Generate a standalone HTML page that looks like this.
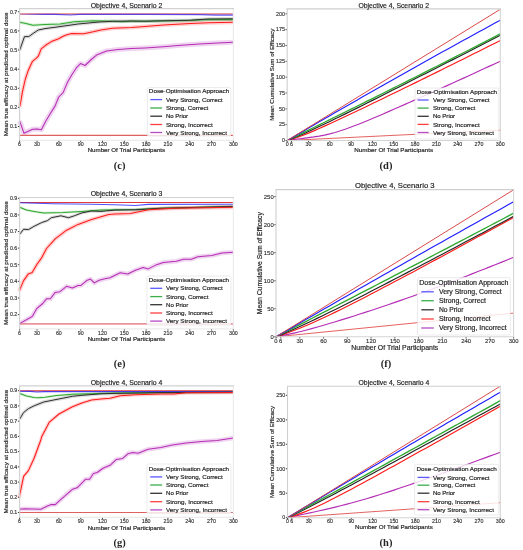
<!DOCTYPE html><html><head><meta charset="utf-8"><style>html,body{margin:0;padding:0;background:#fff;overflow:hidden;}svg{display:block;filter:blur(0.5px);}text{stroke-linejoin:round;}</style></head><body>
<svg width="523" height="550" viewBox="0 0 523 550">
<rect width="523" height="550" fill="#fff"/>
<g>
<polyline points="19.6,22.2 26,23.5 32.9,25.3 45,24.6 60,24 74.1,21.8 93.2,20.7 112.4,21.3 121.9,21.8 131.5,21.3 145,21.3 190.4,20.6 208.6,19.6 233.4,19.6" fill="none" stroke="#2fa82f" stroke-width="3" stroke-opacity="0.2" stroke-linejoin="round" stroke-linecap="butt"/>
<polyline points="19.6,50.4 24.5,36.6 28.8,36.6 33.9,32.9 38.3,30 45,28.6 57,27 78,24 99,22 112.4,21.3 131.5,21 145,21.2 190.4,20.2 208.6,19 233.4,18.8" fill="none" stroke="#222222" stroke-width="3.5" stroke-opacity="0.16" stroke-linejoin="round" stroke-linecap="butt"/>
<polyline points="19.6,106.6 20.1,105.7 22.3,92.6 25.2,79.5 28.1,70.8 32.5,61.3 36.1,58.4 38.3,56.2 41.2,48.9 45.6,45.3 51.4,41.6 58.7,38.7 62.6,36.5 66,35.1 71.8,33.6 83.7,33.7 93.2,31.8 100.9,29.9 112.4,28.3 131.5,27.6 145,26.4 163.2,25 190.4,23.5 208.6,22.8 233.4,22.3" fill="none" stroke="#ff1a1a" stroke-width="4" stroke-opacity="0.2" stroke-linejoin="round" stroke-linecap="butt"/>
<polyline points="19.7,121 24,133.3 28.8,131 32.6,129.3 37.2,128.9 41.4,129.7 45.6,121.4 50.2,113.8 55,106.1 58.7,97 63.1,92.6 67.5,82.2 72.3,74 76.8,67.3 80.5,63.6 85,65.5 91.3,59.5 97.1,54.7 106.6,50.9 118.1,49.4 131.5,48.6 145,48 163.2,46.8 181.3,45.3 199.5,44.1 217.7,43.1 233.4,42.2" fill="none" stroke="#b52db5" stroke-width="5" stroke-opacity="0.2" stroke-linejoin="round" stroke-linecap="butt"/>
<polyline points="19.6,14 233.4,14" fill="none" stroke="#e03a3a" stroke-width="1.1" stroke-linejoin="round" stroke-linecap="butt"/>
<polyline points="19.6,135.3 233.4,135.3" fill="none" stroke="#e06060" stroke-width="1.2" stroke-linejoin="round" stroke-linecap="butt"/>
<defs><linearGradient id="bg" gradientUnits="userSpaceOnUse" x1="19.6" y1="0" x2="45" y2="0"><stop offset="0" stop-color="#1f1fff" stop-opacity="0.15"/><stop offset="1" stop-color="#1f1fff" stop-opacity="0.7"/></linearGradient></defs>
<polyline points="19.6,14.3 40,14.3 55,14.3 70.3,15 79.9,14.3 145,14.3 200,14.6 215,15.2 233.4,15.2" fill="none" stroke="url(#bg)" stroke-width="1.2" stroke-linejoin="round" stroke-linecap="butt"/>
<polyline points="19.6,22.2 26,23.5 32.9,25.3 45,24.6 60,24 74.1,21.8 93.2,20.7 112.4,21.3 121.9,21.8 131.5,21.3 145,21.3 190.4,20.6 208.6,19.6 233.4,19.6" fill="none" stroke="#2fa82f" stroke-width="1.05" stroke-linejoin="round" stroke-linecap="butt"/>
<polyline points="19.6,50.4 24.5,36.6 28.8,36.6 33.9,32.9 38.3,30 45,28.6 57,27 78,24 99,22 112.4,21.3 131.5,21 145,21.2 190.4,20.2 208.6,19 233.4,18.8" fill="none" stroke="#2e2e2e" stroke-width="1" stroke-linejoin="round" stroke-linecap="butt"/>
<polyline points="19.6,106.6 20.1,105.7 22.3,92.6 25.2,79.5 28.1,70.8 32.5,61.3 36.1,58.4 38.3,56.2 41.2,48.9 45.6,45.3 51.4,41.6 58.7,38.7 62.6,36.5 66,35.1 71.8,33.6 83.7,33.7 93.2,31.8 100.9,29.9 112.4,28.3 131.5,27.6 145,26.4 163.2,25 190.4,23.5 208.6,22.8 233.4,22.3" fill="none" stroke="#ff1a1a" stroke-width="1.05" stroke-linejoin="round" stroke-linecap="butt"/>
<polyline points="19.7,121 24,133.3 28.8,131 32.6,129.3 37.2,128.9 41.4,129.7 45.6,121.4 50.2,113.8 55,106.1 58.7,97 63.1,92.6 67.5,82.2 72.3,74 76.8,67.3 80.5,63.6 85,65.5 91.3,59.5 97.1,54.7 106.6,50.9 118.1,49.4 131.5,48.6 145,48 163.2,46.8 181.3,45.3 199.5,44.1 217.7,43.1 233.4,42.2" fill="none" stroke="#b52db5" stroke-width="1.05" stroke-linejoin="round" stroke-linecap="butt"/>
</g>
<line x1="19.6" y1="140.3" x2="233.4" y2="140.3" stroke="#ececec" stroke-width="1.2"/><line x1="233.4" y1="8.6" x2="233.4" y2="140.3" stroke="#ececec" stroke-width="1.2"/><line x1="19" y1="8.6" x2="234" y2="8.6" stroke="#d2d2d2" stroke-width="1.2"/><line x1="19.6" y1="8.6" x2="19.6" y2="140.9" stroke="#d2d2d2" stroke-width="1.2"/>
<line x1="19.6" y1="140.8" x2="19.6" y2="142" stroke="#111" stroke-width="0.8"/>
<text x="19.6" y="146.1" font-size="5.3" text-anchor="middle" fill="#303030" font-family='"Liberation Sans", sans-serif' textLength="2.96" lengthAdjust="spacingAndGlyphs" stroke="#303030" stroke-width="0.14">6</text>
<line x1="37.05" y1="140.8" x2="37.05" y2="142" stroke="#111" stroke-width="0.8"/>
<text x="37.05" y="146.1" font-size="5.3" text-anchor="middle" fill="#303030" font-family='"Liberation Sans", sans-serif' textLength="5.92" lengthAdjust="spacingAndGlyphs" stroke="#303030" stroke-width="0.14">30</text>
<line x1="58.87" y1="140.8" x2="58.87" y2="142" stroke="#111" stroke-width="0.8"/>
<text x="58.87" y="146.1" font-size="5.3" text-anchor="middle" fill="#303030" font-family='"Liberation Sans", sans-serif' textLength="5.92" lengthAdjust="spacingAndGlyphs" stroke="#303030" stroke-width="0.14">60</text>
<line x1="80.69" y1="140.8" x2="80.69" y2="142" stroke="#111" stroke-width="0.8"/>
<text x="80.69" y="146.1" font-size="5.3" text-anchor="middle" fill="#303030" font-family='"Liberation Sans", sans-serif' textLength="5.92" lengthAdjust="spacingAndGlyphs" stroke="#303030" stroke-width="0.14">90</text>
<line x1="102.5" y1="140.8" x2="102.5" y2="142" stroke="#111" stroke-width="0.8"/>
<text x="102.5" y="146.1" font-size="5.3" text-anchor="middle" fill="#303030" font-family='"Liberation Sans", sans-serif' textLength="8.88" lengthAdjust="spacingAndGlyphs" stroke="#303030" stroke-width="0.14">120</text>
<line x1="124.32" y1="140.8" x2="124.32" y2="142" stroke="#111" stroke-width="0.8"/>
<text x="124.32" y="146.1" font-size="5.3" text-anchor="middle" fill="#303030" font-family='"Liberation Sans", sans-serif' textLength="8.88" lengthAdjust="spacingAndGlyphs" stroke="#303030" stroke-width="0.14">150</text>
<line x1="146.13" y1="140.8" x2="146.13" y2="142" stroke="#111" stroke-width="0.8"/>
<text x="146.13" y="146.1" font-size="5.3" text-anchor="middle" fill="#303030" font-family='"Liberation Sans", sans-serif' textLength="8.88" lengthAdjust="spacingAndGlyphs" stroke="#303030" stroke-width="0.14">180</text>
<line x1="167.95" y1="140.8" x2="167.95" y2="142" stroke="#111" stroke-width="0.8"/>
<text x="167.95" y="146.1" font-size="5.3" text-anchor="middle" fill="#303030" font-family='"Liberation Sans", sans-serif' textLength="8.88" lengthAdjust="spacingAndGlyphs" stroke="#303030" stroke-width="0.14">210</text>
<line x1="189.77" y1="140.8" x2="189.77" y2="142" stroke="#111" stroke-width="0.8"/>
<text x="189.77" y="146.1" font-size="5.3" text-anchor="middle" fill="#303030" font-family='"Liberation Sans", sans-serif' textLength="8.88" lengthAdjust="spacingAndGlyphs" stroke="#303030" stroke-width="0.14">240</text>
<line x1="211.58" y1="140.8" x2="211.58" y2="142" stroke="#111" stroke-width="0.8"/>
<text x="211.58" y="146.1" font-size="5.3" text-anchor="middle" fill="#303030" font-family='"Liberation Sans", sans-serif' textLength="8.88" lengthAdjust="spacingAndGlyphs" stroke="#303030" stroke-width="0.14">270</text>
<line x1="233.4" y1="140.8" x2="233.4" y2="142" stroke="#111" stroke-width="0.8"/>
<text x="233.4" y="146.1" font-size="5.3" text-anchor="middle" fill="#303030" font-family='"Liberation Sans", sans-serif' textLength="8.88" lengthAdjust="spacingAndGlyphs" stroke="#303030" stroke-width="0.14">300</text>
<line x1="17.9" y1="126.52" x2="19.1" y2="126.52" stroke="#111" stroke-width="0.8"/>
<text x="17.3" y="128.29" font-size="5.3" text-anchor="end" fill="#303030" font-family='"Liberation Sans", sans-serif' textLength="7.4" lengthAdjust="spacingAndGlyphs" stroke="#303030" stroke-width="0.14">0.1</text>
<line x1="17.9" y1="107.4" x2="19.1" y2="107.4" stroke="#111" stroke-width="0.8"/>
<text x="17.3" y="109.17" font-size="5.3" text-anchor="end" fill="#303030" font-family='"Liberation Sans", sans-serif' textLength="7.4" lengthAdjust="spacingAndGlyphs" stroke="#303030" stroke-width="0.14">0.2</text>
<line x1="17.9" y1="88.28" x2="19.1" y2="88.28" stroke="#111" stroke-width="0.8"/>
<text x="17.3" y="90.05" font-size="5.3" text-anchor="end" fill="#303030" font-family='"Liberation Sans", sans-serif' textLength="7.4" lengthAdjust="spacingAndGlyphs" stroke="#303030" stroke-width="0.14">0.3</text>
<line x1="17.9" y1="69.16" x2="19.1" y2="69.16" stroke="#111" stroke-width="0.8"/>
<text x="17.3" y="70.93" font-size="5.3" text-anchor="end" fill="#303030" font-family='"Liberation Sans", sans-serif' textLength="7.4" lengthAdjust="spacingAndGlyphs" stroke="#303030" stroke-width="0.14">0.4</text>
<line x1="17.9" y1="50.04" x2="19.1" y2="50.04" stroke="#111" stroke-width="0.8"/>
<text x="17.3" y="51.81" font-size="5.3" text-anchor="end" fill="#303030" font-family='"Liberation Sans", sans-serif' textLength="7.4" lengthAdjust="spacingAndGlyphs" stroke="#303030" stroke-width="0.14">0.5</text>
<line x1="17.9" y1="30.92" x2="19.1" y2="30.92" stroke="#111" stroke-width="0.8"/>
<text x="17.3" y="32.69" font-size="5.3" text-anchor="end" fill="#303030" font-family='"Liberation Sans", sans-serif' textLength="7.4" lengthAdjust="spacingAndGlyphs" stroke="#303030" stroke-width="0.14">0.6</text>
<line x1="17.9" y1="11.8" x2="19.1" y2="11.8" stroke="#111" stroke-width="0.8"/>
<text x="17.3" y="13.57" font-size="5.3" text-anchor="end" fill="#303030" font-family='"Liberation Sans", sans-serif' textLength="7.4" lengthAdjust="spacingAndGlyphs" stroke="#303030" stroke-width="0.14">0.7</text>
<text x="126.5" y="7.7" font-size="6.53" text-anchor="middle" fill="#262626" font-family='"Liberation Sans", sans-serif' textLength="71.7" lengthAdjust="spacingAndGlyphs" stroke="#262626" stroke-width="0.18">Objective 4, Scenario 2</text>
<text x="8.1" y="74.45" font-size="5.84" text-anchor="middle" fill="#262626" font-family='"Liberation Sans", sans-serif' textLength="123.8" lengthAdjust="spacingAndGlyphs" transform="rotate(-90 8.1 74.45)" stroke="#262626" stroke-width="0.18">Mean true efficacy at predicted optimal dose</text>
<text x="126.4" y="152.1" font-size="5.84" text-anchor="middle" fill="#262626" font-family='"Liberation Sans", sans-serif' textLength="77.5" lengthAdjust="spacingAndGlyphs" stroke="#262626" stroke-width="0.18">Number Of Trial Participants</text>
<text x="119.6" y="169.3" font-size="10.5" text-anchor="middle" fill="#262626" font-family='"Liberation Serif", serif' font-weight="bold">(c)</text>
<rect x="147.3" y="87.6" width="83.5" height="48.4" rx="1.5" fill="#ffffff" fill-opacity="0.82" stroke="#e2e2e2" stroke-width="0.7"/>
<text x="189.05" y="93.43" font-size="5.93" text-anchor="middle" fill="#262626" font-family='"Liberation Sans", sans-serif' textLength="80.38" lengthAdjust="spacingAndGlyphs" stroke="#262626" stroke-width="0.18">Dose-Optimisation Approach</text>
<line x1="150.3" y1="99.6" x2="162.1" y2="99.6" stroke="#5a5aff" stroke-width="1.3"/>
<text x="165.9" y="101.73" font-size="5.93" text-anchor="start" fill="#262626" font-family='"Liberation Sans", sans-serif' textLength="56.64" lengthAdjust="spacingAndGlyphs" stroke="#262626" stroke-width="0.18">Very Strong, Correct</text>
<line x1="150.3" y1="108" x2="162.1" y2="108" stroke="#3cae4c" stroke-width="1.3"/>
<text x="165.9" y="110.13" font-size="5.93" text-anchor="start" fill="#262626" font-family='"Liberation Sans", sans-serif' textLength="42.41" lengthAdjust="spacingAndGlyphs" stroke="#262626" stroke-width="0.18">Strong, Correct</text>
<line x1="150.3" y1="116.2" x2="162.1" y2="116.2" stroke="#333333" stroke-width="1.3"/>
<text x="165.9" y="118.33" font-size="5.93" text-anchor="start" fill="#262626" font-family='"Liberation Sans", sans-serif' textLength="22.24" lengthAdjust="spacingAndGlyphs" stroke="#262626" stroke-width="0.18">No Prior</text>
<line x1="150.3" y1="124.5" x2="162.1" y2="124.5" stroke="#ff4040" stroke-width="1.3"/>
<text x="165.9" y="126.63" font-size="5.93" text-anchor="start" fill="#262626" font-family='"Liberation Sans", sans-serif' textLength="46.78" lengthAdjust="spacingAndGlyphs" stroke="#262626" stroke-width="0.18">Strong, Incorrect</text>
<line x1="150.3" y1="132.5" x2="162.1" y2="132.5" stroke="#b44cc4" stroke-width="1.3"/>
<text x="165.9" y="134.63" font-size="5.93" text-anchor="start" fill="#262626" font-family='"Liberation Sans", sans-serif' textLength="61" lengthAdjust="spacingAndGlyphs" stroke="#262626" stroke-width="0.18">Very Strong, Incorrect</text>
<g>
<polyline points="19.6,207.2 26.5,210.1 34.1,211.4 43.7,212.9 62.8,212.6 81.9,211.4 101,210.1 115,209.8 135.4,209.6 160.9,208.3 233.4,206.6" fill="none" stroke="#2fa82f" stroke-width="2.5" stroke-opacity="0.2" stroke-linejoin="round" stroke-linecap="butt"/>
<polyline points="19.6,234.4 23.6,229.2 28.4,229.6 34.1,226.3 41.8,222.5 47.5,220.6 51.3,217.7 60.9,215.8 68.5,217.7 74.3,215.8 81.9,212.9 91.5,211 101,211.4 115,210.1 135.4,209.8 160.9,208.3 233.4,206.4" fill="none" stroke="#222222" stroke-width="3" stroke-opacity="0.16" stroke-linejoin="round" stroke-linecap="butt"/>
<polyline points="19.2,291.1 23.6,280.6 28.4,273.9 32.2,272.6 37,264.3 41.8,257.6 46.5,248.5 55.2,238.8 66.6,230.2 78.1,224.4 91.5,219.6 101,216.8 108.7,214.5 115,213.9 130.4,213.4 148.2,209.8 173.6,208.3 233.4,207.3" fill="none" stroke="#ff1a1a" stroke-width="4" stroke-opacity="0.2" stroke-linejoin="round" stroke-linecap="butt"/>
<polyline points="19.6,323.6 32.2,316.5 37,308.3 42.7,303.5 46.5,298.8 50.4,298.8 55.2,292.4 59.9,291.7 66.6,286.3 72.4,287.9 78.1,285.4 81,285.4 86.7,280.6 90.5,279.1 94.3,282.9 99.1,280.2 104.9,278.7 110,277.8 120.2,272.7 127.8,274 135.4,270.2 143.1,267.6 148.2,268.9 155.8,265.1 163.4,262.5 176.2,261.2 183.8,259.2 191.4,259.2 197.8,256.7 211.8,255.6 222,253.1 233.4,252.3" fill="none" stroke="#b52db5" stroke-width="4.5" stroke-opacity="0.2" stroke-linejoin="round" stroke-linecap="butt"/>
<polyline points="19.6,202.5 233.4,202.5" fill="none" stroke="#e03a3a" stroke-width="1.1" stroke-linejoin="round" stroke-linecap="butt"/>
<polyline points="19.6,323.9 233.4,323.9" fill="none" stroke="#e8939b" stroke-width="1.9" stroke-linejoin="round" stroke-linecap="butt"/>
<polyline points="19.6,202.8 53.2,203.8 91.5,204.3 115,204.7 135.4,205.5 148.2,204.4 233.4,204.2" fill="none" stroke="#1f1fff" stroke-width="1.15" stroke-opacity="0.78" stroke-linejoin="round" stroke-linecap="butt"/>
<polyline points="19.6,207.2 26.5,210.1 34.1,211.4 43.7,212.9 62.8,212.6 81.9,211.4 101,210.1 115,209.8 135.4,209.6 160.9,208.3 233.4,206.6" fill="none" stroke="#2fa82f" stroke-width="1.05" stroke-linejoin="round" stroke-linecap="butt"/>
<polyline points="19.6,234.4 23.6,229.2 28.4,229.6 34.1,226.3 41.8,222.5 47.5,220.6 51.3,217.7 60.9,215.8 68.5,217.7 74.3,215.8 81.9,212.9 91.5,211 101,211.4 115,210.1 135.4,209.8 160.9,208.3 233.4,206.4" fill="none" stroke="#2e2e2e" stroke-width="1" stroke-linejoin="round" stroke-linecap="butt"/>
<polyline points="19.2,291.1 23.6,280.6 28.4,273.9 32.2,272.6 37,264.3 41.8,257.6 46.5,248.5 55.2,238.8 66.6,230.2 78.1,224.4 91.5,219.6 101,216.8 108.7,214.5 115,213.9 130.4,213.4 148.2,209.8 173.6,208.3 233.4,207.3" fill="none" stroke="#ff1a1a" stroke-width="1.05" stroke-linejoin="round" stroke-linecap="butt"/>
<polyline points="19.6,323.6 32.2,316.5 37,308.3 42.7,303.5 46.5,298.8 50.4,298.8 55.2,292.4 59.9,291.7 66.6,286.3 72.4,287.9 78.1,285.4 81,285.4 86.7,280.6 90.5,279.1 94.3,282.9 99.1,280.2 104.9,278.7 110,277.8 120.2,272.7 127.8,274 135.4,270.2 143.1,267.6 148.2,268.9 155.8,265.1 163.4,262.5 176.2,261.2 183.8,259.2 191.4,259.2 197.8,256.7 211.8,255.6 222,253.1 233.4,252.3" fill="none" stroke="#b52db5" stroke-width="1.05" stroke-linejoin="round" stroke-linecap="butt"/>
</g>
<line x1="19.6" y1="328.9" x2="233.4" y2="328.9" stroke="#ececec" stroke-width="1.2"/><line x1="233.4" y1="197.5" x2="233.4" y2="328.9" stroke="#ececec" stroke-width="1.2"/><line x1="19" y1="197.5" x2="234" y2="197.5" stroke="#d2d2d2" stroke-width="1.2"/><line x1="19.6" y1="197.5" x2="19.6" y2="329.5" stroke="#d2d2d2" stroke-width="1.2"/>
<line x1="19.6" y1="329.4" x2="19.6" y2="330.6" stroke="#111" stroke-width="0.8"/>
<text x="19.6" y="334.7" font-size="5.3" text-anchor="middle" fill="#303030" font-family='"Liberation Sans", sans-serif' textLength="2.96" lengthAdjust="spacingAndGlyphs" stroke="#303030" stroke-width="0.14">6</text>
<line x1="37.05" y1="329.4" x2="37.05" y2="330.6" stroke="#111" stroke-width="0.8"/>
<text x="37.05" y="334.7" font-size="5.3" text-anchor="middle" fill="#303030" font-family='"Liberation Sans", sans-serif' textLength="5.92" lengthAdjust="spacingAndGlyphs" stroke="#303030" stroke-width="0.14">30</text>
<line x1="58.87" y1="329.4" x2="58.87" y2="330.6" stroke="#111" stroke-width="0.8"/>
<text x="58.87" y="334.7" font-size="5.3" text-anchor="middle" fill="#303030" font-family='"Liberation Sans", sans-serif' textLength="5.92" lengthAdjust="spacingAndGlyphs" stroke="#303030" stroke-width="0.14">60</text>
<line x1="80.69" y1="329.4" x2="80.69" y2="330.6" stroke="#111" stroke-width="0.8"/>
<text x="80.69" y="334.7" font-size="5.3" text-anchor="middle" fill="#303030" font-family='"Liberation Sans", sans-serif' textLength="5.92" lengthAdjust="spacingAndGlyphs" stroke="#303030" stroke-width="0.14">90</text>
<line x1="102.5" y1="329.4" x2="102.5" y2="330.6" stroke="#111" stroke-width="0.8"/>
<text x="102.5" y="334.7" font-size="5.3" text-anchor="middle" fill="#303030" font-family='"Liberation Sans", sans-serif' textLength="8.88" lengthAdjust="spacingAndGlyphs" stroke="#303030" stroke-width="0.14">120</text>
<line x1="124.32" y1="329.4" x2="124.32" y2="330.6" stroke="#111" stroke-width="0.8"/>
<text x="124.32" y="334.7" font-size="5.3" text-anchor="middle" fill="#303030" font-family='"Liberation Sans", sans-serif' textLength="8.88" lengthAdjust="spacingAndGlyphs" stroke="#303030" stroke-width="0.14">150</text>
<line x1="146.13" y1="329.4" x2="146.13" y2="330.6" stroke="#111" stroke-width="0.8"/>
<text x="146.13" y="334.7" font-size="5.3" text-anchor="middle" fill="#303030" font-family='"Liberation Sans", sans-serif' textLength="8.88" lengthAdjust="spacingAndGlyphs" stroke="#303030" stroke-width="0.14">180</text>
<line x1="167.95" y1="329.4" x2="167.95" y2="330.6" stroke="#111" stroke-width="0.8"/>
<text x="167.95" y="334.7" font-size="5.3" text-anchor="middle" fill="#303030" font-family='"Liberation Sans", sans-serif' textLength="8.88" lengthAdjust="spacingAndGlyphs" stroke="#303030" stroke-width="0.14">210</text>
<line x1="189.77" y1="329.4" x2="189.77" y2="330.6" stroke="#111" stroke-width="0.8"/>
<text x="189.77" y="334.7" font-size="5.3" text-anchor="middle" fill="#303030" font-family='"Liberation Sans", sans-serif' textLength="8.88" lengthAdjust="spacingAndGlyphs" stroke="#303030" stroke-width="0.14">240</text>
<line x1="211.58" y1="329.4" x2="211.58" y2="330.6" stroke="#111" stroke-width="0.8"/>
<text x="211.58" y="334.7" font-size="5.3" text-anchor="middle" fill="#303030" font-family='"Liberation Sans", sans-serif' textLength="8.88" lengthAdjust="spacingAndGlyphs" stroke="#303030" stroke-width="0.14">270</text>
<line x1="233.4" y1="329.4" x2="233.4" y2="330.6" stroke="#111" stroke-width="0.8"/>
<text x="233.4" y="334.7" font-size="5.3" text-anchor="middle" fill="#303030" font-family='"Liberation Sans", sans-serif' textLength="8.88" lengthAdjust="spacingAndGlyphs" stroke="#303030" stroke-width="0.14">300</text>
<line x1="17.9" y1="314.57" x2="19.1" y2="314.57" stroke="#111" stroke-width="0.8"/>
<text x="17.3" y="316.34" font-size="5.3" text-anchor="end" fill="#303030" font-family='"Liberation Sans", sans-serif' textLength="7.4" lengthAdjust="spacingAndGlyphs" stroke="#303030" stroke-width="0.14">0.2</text>
<line x1="17.9" y1="297.96" x2="19.1" y2="297.96" stroke="#111" stroke-width="0.8"/>
<text x="17.3" y="299.73" font-size="5.3" text-anchor="end" fill="#303030" font-family='"Liberation Sans", sans-serif' textLength="7.4" lengthAdjust="spacingAndGlyphs" stroke="#303030" stroke-width="0.14">0.3</text>
<line x1="17.9" y1="281.35" x2="19.1" y2="281.35" stroke="#111" stroke-width="0.8"/>
<text x="17.3" y="283.12" font-size="5.3" text-anchor="end" fill="#303030" font-family='"Liberation Sans", sans-serif' textLength="7.4" lengthAdjust="spacingAndGlyphs" stroke="#303030" stroke-width="0.14">0.4</text>
<line x1="17.9" y1="264.74" x2="19.1" y2="264.74" stroke="#111" stroke-width="0.8"/>
<text x="17.3" y="266.51" font-size="5.3" text-anchor="end" fill="#303030" font-family='"Liberation Sans", sans-serif' textLength="7.4" lengthAdjust="spacingAndGlyphs" stroke="#303030" stroke-width="0.14">0.5</text>
<line x1="17.9" y1="248.13" x2="19.1" y2="248.13" stroke="#111" stroke-width="0.8"/>
<text x="17.3" y="249.9" font-size="5.3" text-anchor="end" fill="#303030" font-family='"Liberation Sans", sans-serif' textLength="7.4" lengthAdjust="spacingAndGlyphs" stroke="#303030" stroke-width="0.14">0.6</text>
<line x1="17.9" y1="231.52" x2="19.1" y2="231.52" stroke="#111" stroke-width="0.8"/>
<text x="17.3" y="233.29" font-size="5.3" text-anchor="end" fill="#303030" font-family='"Liberation Sans", sans-serif' textLength="7.4" lengthAdjust="spacingAndGlyphs" stroke="#303030" stroke-width="0.14">0.7</text>
<line x1="17.9" y1="214.91" x2="19.1" y2="214.91" stroke="#111" stroke-width="0.8"/>
<text x="17.3" y="216.68" font-size="5.3" text-anchor="end" fill="#303030" font-family='"Liberation Sans", sans-serif' textLength="7.4" lengthAdjust="spacingAndGlyphs" stroke="#303030" stroke-width="0.14">0.8</text>
<line x1="17.9" y1="198.3" x2="19.1" y2="198.3" stroke="#111" stroke-width="0.8"/>
<text x="17.3" y="200.07" font-size="5.3" text-anchor="end" fill="#303030" font-family='"Liberation Sans", sans-serif' textLength="7.4" lengthAdjust="spacingAndGlyphs" stroke="#303030" stroke-width="0.14">0.9</text>
<text x="126.5" y="196.3" font-size="6.53" text-anchor="middle" fill="#262626" font-family='"Liberation Sans", sans-serif' textLength="71.7" lengthAdjust="spacingAndGlyphs" stroke="#262626" stroke-width="0.18">Objective 4, Scenario 3</text>
<text x="8.1" y="263.2" font-size="5.84" text-anchor="middle" fill="#262626" font-family='"Liberation Sans", sans-serif' textLength="123.8" lengthAdjust="spacingAndGlyphs" transform="rotate(-90 8.1 263.2)" stroke="#262626" stroke-width="0.18">Mean true efficacy at predicted optimal dose</text>
<text x="126.4" y="341" font-size="5.84" text-anchor="middle" fill="#262626" font-family='"Liberation Sans", sans-serif' textLength="77.5" lengthAdjust="spacingAndGlyphs" stroke="#262626" stroke-width="0.18">Number Of Trial Participants</text>
<text x="119.6" y="367.3" font-size="10.5" text-anchor="middle" fill="#262626" font-family='"Liberation Serif", serif' font-weight="bold">(e)</text>
<rect x="146.9" y="276" width="84" height="49" rx="1.5" fill="#ffffff" fill-opacity="0.82" stroke="#e2e2e2" stroke-width="0.7"/>
<text x="188.9" y="281.93" font-size="5.93" text-anchor="middle" fill="#262626" font-family='"Liberation Sans", sans-serif' textLength="80.38" lengthAdjust="spacingAndGlyphs" stroke="#262626" stroke-width="0.18">Dose-Optimisation Approach</text>
<line x1="150.2" y1="288.3" x2="162.2" y2="288.3" stroke="#5a5aff" stroke-width="1.3"/>
<text x="166" y="290.43" font-size="5.93" text-anchor="start" fill="#262626" font-family='"Liberation Sans", sans-serif' textLength="56.64" lengthAdjust="spacingAndGlyphs" stroke="#262626" stroke-width="0.18">Very Strong, Correct</text>
<line x1="150.2" y1="296.6" x2="162.2" y2="296.6" stroke="#3cae4c" stroke-width="1.3"/>
<text x="166" y="298.73" font-size="5.93" text-anchor="start" fill="#262626" font-family='"Liberation Sans", sans-serif' textLength="42.41" lengthAdjust="spacingAndGlyphs" stroke="#262626" stroke-width="0.18">Strong, Correct</text>
<line x1="150.2" y1="304.7" x2="162.2" y2="304.7" stroke="#333333" stroke-width="1.3"/>
<text x="166" y="306.83" font-size="5.93" text-anchor="start" fill="#262626" font-family='"Liberation Sans", sans-serif' textLength="22.24" lengthAdjust="spacingAndGlyphs" stroke="#262626" stroke-width="0.18">No Prior</text>
<line x1="150.2" y1="313" x2="162.2" y2="313" stroke="#ff4040" stroke-width="1.3"/>
<text x="166" y="315.13" font-size="5.93" text-anchor="start" fill="#262626" font-family='"Liberation Sans", sans-serif' textLength="46.78" lengthAdjust="spacingAndGlyphs" stroke="#262626" stroke-width="0.18">Strong, Incorrect</text>
<line x1="150.2" y1="321.1" x2="162.2" y2="321.1" stroke="#b44cc4" stroke-width="1.3"/>
<text x="166" y="323.23" font-size="5.93" text-anchor="start" fill="#262626" font-family='"Liberation Sans", sans-serif' textLength="61" lengthAdjust="spacingAndGlyphs" stroke="#262626" stroke-width="0.18">Very Strong, Incorrect</text>
<g>
<polyline points="19.8,393.6 26.5,396 34,397.4 38.4,397.8 45,397.2 57,395.5 72.4,394.3 91.5,393.8 115,393 160,392.6 233.4,392.3" fill="none" stroke="#2fa82f" stroke-width="2.5" stroke-opacity="0.2" stroke-linejoin="round" stroke-linecap="butt"/>
<polyline points="19.6,419.2 23.6,412.5 28.4,408.7 34.1,405.8 43.7,402 53.2,400.1 62.8,398.2 72.4,396.3 81.9,395.3 101,393.8 115,393.4 160,392.6 233.4,392.2" fill="none" stroke="#222222" stroke-width="3.5" stroke-opacity="0.16" stroke-linejoin="round" stroke-linecap="butt"/>
<polyline points="19.2,497.4 23.6,476.3 28.4,470.6 34.1,458.2 40.8,440 41.8,436.4 49.4,422.1 59,414 72.4,406.8 81.9,402.9 91.5,400.1 101,399.1 110,398.3 120.2,395.8 135.4,394.8 160.9,394 173.6,394 186.3,392.7 233.4,392.4" fill="none" stroke="#ff1a1a" stroke-width="3.5" stroke-opacity="0.2" stroke-linejoin="round" stroke-linecap="butt"/>
<polyline points="19.2,509.2 24.6,508.8 40.8,509.2 47.5,506 51.3,504.6 55.2,504.6 60.9,499.3 72.4,489.3 77.1,487.8 85.7,479.2 89.6,479.2 93.4,473.5 97.2,472.5 103,468.3 110.6,464.9 116.4,459.4 122.7,458.4 127.8,453.8 132.9,452.5 138,453.3 148.2,449.2 160.9,447.4 172.3,444.9 186.3,443.1 201.6,441.6 216.9,440.6 233.4,438" fill="none" stroke="#b52db5" stroke-width="4.5" stroke-opacity="0.2" stroke-linejoin="round" stroke-linecap="butt"/>
<polyline points="19.6,390.9 233.4,390.9" fill="none" stroke="#e03a3a" stroke-width="1.1" stroke-linejoin="round" stroke-linecap="butt"/>
<polyline points="19.6,512.5 233.4,512.5" fill="none" stroke="#e06060" stroke-width="1.2" stroke-linejoin="round" stroke-linecap="butt"/>
<polyline points="19.6,391.2 30,391.4 37,392 45,391.6 233.4,391.5" fill="none" stroke="#1f1fff" stroke-width="1.15" stroke-opacity="0.78" stroke-linejoin="round" stroke-linecap="butt"/>
<polyline points="19.8,393.6 26.5,396 34,397.4 38.4,397.8 45,397.2 57,395.5 72.4,394.3 91.5,393.8 115,393 160,392.6 233.4,392.3" fill="none" stroke="#2fa82f" stroke-width="1.05" stroke-linejoin="round" stroke-linecap="butt"/>
<polyline points="19.6,419.2 23.6,412.5 28.4,408.7 34.1,405.8 43.7,402 53.2,400.1 62.8,398.2 72.4,396.3 81.9,395.3 101,393.8 115,393.4 160,392.6 233.4,392.2" fill="none" stroke="#2e2e2e" stroke-width="1" stroke-linejoin="round" stroke-linecap="butt"/>
<polyline points="19.2,497.4 23.6,476.3 28.4,470.6 34.1,458.2 40.8,440 41.8,436.4 49.4,422.1 59,414 72.4,406.8 81.9,402.9 91.5,400.1 101,399.1 110,398.3 120.2,395.8 135.4,394.8 160.9,394 173.6,394 186.3,392.7 233.4,392.4" fill="none" stroke="#ff1a1a" stroke-width="1.05" stroke-linejoin="round" stroke-linecap="butt"/>
<polyline points="19.2,509.2 24.6,508.8 40.8,509.2 47.5,506 51.3,504.6 55.2,504.6 60.9,499.3 72.4,489.3 77.1,487.8 85.7,479.2 89.6,479.2 93.4,473.5 97.2,472.5 103,468.3 110.6,464.9 116.4,459.4 122.7,458.4 127.8,453.8 132.9,452.5 138,453.3 148.2,449.2 160.9,447.4 172.3,444.9 186.3,443.1 201.6,441.6 216.9,440.6 233.4,438" fill="none" stroke="#b52db5" stroke-width="1.05" stroke-linejoin="round" stroke-linecap="butt"/>
</g>
<line x1="19.6" y1="517.4" x2="233.4" y2="517.4" stroke="#ececec" stroke-width="1.2"/><line x1="233.4" y1="385.9" x2="233.4" y2="517.4" stroke="#ececec" stroke-width="1.2"/><line x1="19" y1="385.9" x2="234" y2="385.9" stroke="#d2d2d2" stroke-width="1.2"/><line x1="19.6" y1="385.9" x2="19.6" y2="518" stroke="#d2d2d2" stroke-width="1.2"/>
<line x1="19.6" y1="517.9" x2="19.6" y2="519.1" stroke="#111" stroke-width="0.8"/>
<text x="19.6" y="523.2" font-size="5.3" text-anchor="middle" fill="#303030" font-family='"Liberation Sans", sans-serif' textLength="2.96" lengthAdjust="spacingAndGlyphs" stroke="#303030" stroke-width="0.14">6</text>
<line x1="37.05" y1="517.9" x2="37.05" y2="519.1" stroke="#111" stroke-width="0.8"/>
<text x="37.05" y="523.2" font-size="5.3" text-anchor="middle" fill="#303030" font-family='"Liberation Sans", sans-serif' textLength="5.92" lengthAdjust="spacingAndGlyphs" stroke="#303030" stroke-width="0.14">30</text>
<line x1="58.87" y1="517.9" x2="58.87" y2="519.1" stroke="#111" stroke-width="0.8"/>
<text x="58.87" y="523.2" font-size="5.3" text-anchor="middle" fill="#303030" font-family='"Liberation Sans", sans-serif' textLength="5.92" lengthAdjust="spacingAndGlyphs" stroke="#303030" stroke-width="0.14">60</text>
<line x1="80.69" y1="517.9" x2="80.69" y2="519.1" stroke="#111" stroke-width="0.8"/>
<text x="80.69" y="523.2" font-size="5.3" text-anchor="middle" fill="#303030" font-family='"Liberation Sans", sans-serif' textLength="5.92" lengthAdjust="spacingAndGlyphs" stroke="#303030" stroke-width="0.14">90</text>
<line x1="102.5" y1="517.9" x2="102.5" y2="519.1" stroke="#111" stroke-width="0.8"/>
<text x="102.5" y="523.2" font-size="5.3" text-anchor="middle" fill="#303030" font-family='"Liberation Sans", sans-serif' textLength="8.88" lengthAdjust="spacingAndGlyphs" stroke="#303030" stroke-width="0.14">120</text>
<line x1="124.32" y1="517.9" x2="124.32" y2="519.1" stroke="#111" stroke-width="0.8"/>
<text x="124.32" y="523.2" font-size="5.3" text-anchor="middle" fill="#303030" font-family='"Liberation Sans", sans-serif' textLength="8.88" lengthAdjust="spacingAndGlyphs" stroke="#303030" stroke-width="0.14">150</text>
<line x1="146.13" y1="517.9" x2="146.13" y2="519.1" stroke="#111" stroke-width="0.8"/>
<text x="146.13" y="523.2" font-size="5.3" text-anchor="middle" fill="#303030" font-family='"Liberation Sans", sans-serif' textLength="8.88" lengthAdjust="spacingAndGlyphs" stroke="#303030" stroke-width="0.14">180</text>
<line x1="167.95" y1="517.9" x2="167.95" y2="519.1" stroke="#111" stroke-width="0.8"/>
<text x="167.95" y="523.2" font-size="5.3" text-anchor="middle" fill="#303030" font-family='"Liberation Sans", sans-serif' textLength="8.88" lengthAdjust="spacingAndGlyphs" stroke="#303030" stroke-width="0.14">210</text>
<line x1="189.77" y1="517.9" x2="189.77" y2="519.1" stroke="#111" stroke-width="0.8"/>
<text x="189.77" y="523.2" font-size="5.3" text-anchor="middle" fill="#303030" font-family='"Liberation Sans", sans-serif' textLength="8.88" lengthAdjust="spacingAndGlyphs" stroke="#303030" stroke-width="0.14">240</text>
<line x1="211.58" y1="517.9" x2="211.58" y2="519.1" stroke="#111" stroke-width="0.8"/>
<text x="211.58" y="523.2" font-size="5.3" text-anchor="middle" fill="#303030" font-family='"Liberation Sans", sans-serif' textLength="8.88" lengthAdjust="spacingAndGlyphs" stroke="#303030" stroke-width="0.14">270</text>
<line x1="233.4" y1="517.9" x2="233.4" y2="519.1" stroke="#111" stroke-width="0.8"/>
<text x="233.4" y="523.2" font-size="5.3" text-anchor="middle" fill="#303030" font-family='"Liberation Sans", sans-serif' textLength="8.88" lengthAdjust="spacingAndGlyphs" stroke="#303030" stroke-width="0.14">300</text>
<line x1="17.9" y1="512.54" x2="19.1" y2="512.54" stroke="#111" stroke-width="0.8"/>
<text x="17.3" y="514.31" font-size="5.3" text-anchor="end" fill="#303030" font-family='"Liberation Sans", sans-serif' textLength="7.4" lengthAdjust="spacingAndGlyphs" stroke="#303030" stroke-width="0.14">0.1</text>
<line x1="17.9" y1="497.31" x2="19.1" y2="497.31" stroke="#111" stroke-width="0.8"/>
<text x="17.3" y="499.08" font-size="5.3" text-anchor="end" fill="#303030" font-family='"Liberation Sans", sans-serif' textLength="7.4" lengthAdjust="spacingAndGlyphs" stroke="#303030" stroke-width="0.14">0.2</text>
<line x1="17.9" y1="482.08" x2="19.1" y2="482.08" stroke="#111" stroke-width="0.8"/>
<text x="17.3" y="483.85" font-size="5.3" text-anchor="end" fill="#303030" font-family='"Liberation Sans", sans-serif' textLength="7.4" lengthAdjust="spacingAndGlyphs" stroke="#303030" stroke-width="0.14">0.3</text>
<line x1="17.9" y1="466.85" x2="19.1" y2="466.85" stroke="#111" stroke-width="0.8"/>
<text x="17.3" y="468.62" font-size="5.3" text-anchor="end" fill="#303030" font-family='"Liberation Sans", sans-serif' textLength="7.4" lengthAdjust="spacingAndGlyphs" stroke="#303030" stroke-width="0.14">0.4</text>
<line x1="17.9" y1="451.62" x2="19.1" y2="451.62" stroke="#111" stroke-width="0.8"/>
<text x="17.3" y="453.39" font-size="5.3" text-anchor="end" fill="#303030" font-family='"Liberation Sans", sans-serif' textLength="7.4" lengthAdjust="spacingAndGlyphs" stroke="#303030" stroke-width="0.14">0.5</text>
<line x1="17.9" y1="436.39" x2="19.1" y2="436.39" stroke="#111" stroke-width="0.8"/>
<text x="17.3" y="438.16" font-size="5.3" text-anchor="end" fill="#303030" font-family='"Liberation Sans", sans-serif' textLength="7.4" lengthAdjust="spacingAndGlyphs" stroke="#303030" stroke-width="0.14">0.6</text>
<line x1="17.9" y1="421.16" x2="19.1" y2="421.16" stroke="#111" stroke-width="0.8"/>
<text x="17.3" y="422.93" font-size="5.3" text-anchor="end" fill="#303030" font-family='"Liberation Sans", sans-serif' textLength="7.4" lengthAdjust="spacingAndGlyphs" stroke="#303030" stroke-width="0.14">0.7</text>
<line x1="17.9" y1="405.93" x2="19.1" y2="405.93" stroke="#111" stroke-width="0.8"/>
<text x="17.3" y="407.7" font-size="5.3" text-anchor="end" fill="#303030" font-family='"Liberation Sans", sans-serif' textLength="7.4" lengthAdjust="spacingAndGlyphs" stroke="#303030" stroke-width="0.14">0.8</text>
<line x1="17.9" y1="390.7" x2="19.1" y2="390.7" stroke="#111" stroke-width="0.8"/>
<text x="17.3" y="392.47" font-size="5.3" text-anchor="end" fill="#303030" font-family='"Liberation Sans", sans-serif' textLength="7.4" lengthAdjust="spacingAndGlyphs" stroke="#303030" stroke-width="0.14">0.9</text>
<text x="126.5" y="384.9" font-size="6.53" text-anchor="middle" fill="#262626" font-family='"Liberation Sans", sans-serif' textLength="71.7" lengthAdjust="spacingAndGlyphs" stroke="#262626" stroke-width="0.18">Objective 4, Scenario 4</text>
<text x="8.1" y="451.65" font-size="5.84" text-anchor="middle" fill="#262626" font-family='"Liberation Sans", sans-serif' textLength="123.8" lengthAdjust="spacingAndGlyphs" transform="rotate(-90 8.1 451.65)" stroke="#262626" stroke-width="0.18">Mean true efficacy at predicted optimal dose</text>
<text x="126.4" y="529.8" font-size="5.84" text-anchor="middle" fill="#262626" font-family='"Liberation Sans", sans-serif' textLength="77.5" lengthAdjust="spacingAndGlyphs" stroke="#262626" stroke-width="0.18">Number Of Trial Participants</text>
<text x="119.6" y="546" font-size="10.5" text-anchor="middle" fill="#262626" font-family='"Liberation Serif", serif' font-weight="bold">(g)</text>
<rect x="146.9" y="464" width="84" height="49.4" rx="1.5" fill="#ffffff" fill-opacity="0.82" stroke="#e2e2e2" stroke-width="0.7"/>
<text x="188.9" y="470.73" font-size="5.93" text-anchor="middle" fill="#262626" font-family='"Liberation Sans", sans-serif' textLength="80.38" lengthAdjust="spacingAndGlyphs" stroke="#262626" stroke-width="0.18">Dose-Optimisation Approach</text>
<line x1="150.2" y1="476.9" x2="162.2" y2="476.9" stroke="#5a5aff" stroke-width="1.3"/>
<text x="166" y="479.03" font-size="5.93" text-anchor="start" fill="#262626" font-family='"Liberation Sans", sans-serif' textLength="56.64" lengthAdjust="spacingAndGlyphs" stroke="#262626" stroke-width="0.18">Very Strong, Correct</text>
<line x1="150.2" y1="485" x2="162.2" y2="485" stroke="#3cae4c" stroke-width="1.3"/>
<text x="166" y="487.13" font-size="5.93" text-anchor="start" fill="#262626" font-family='"Liberation Sans", sans-serif' textLength="42.41" lengthAdjust="spacingAndGlyphs" stroke="#262626" stroke-width="0.18">Strong, Correct</text>
<line x1="150.2" y1="493.3" x2="162.2" y2="493.3" stroke="#333333" stroke-width="1.3"/>
<text x="166" y="495.43" font-size="5.93" text-anchor="start" fill="#262626" font-family='"Liberation Sans", sans-serif' textLength="22.24" lengthAdjust="spacingAndGlyphs" stroke="#262626" stroke-width="0.18">No Prior</text>
<line x1="150.2" y1="501.7" x2="162.2" y2="501.7" stroke="#ff4040" stroke-width="1.3"/>
<text x="166" y="503.83" font-size="5.93" text-anchor="start" fill="#262626" font-family='"Liberation Sans", sans-serif' textLength="46.78" lengthAdjust="spacingAndGlyphs" stroke="#262626" stroke-width="0.18">Strong, Incorrect</text>
<line x1="150.2" y1="509.9" x2="162.2" y2="509.9" stroke="#b44cc4" stroke-width="1.3"/>
<text x="166" y="512.03" font-size="5.93" text-anchor="start" fill="#262626" font-family='"Liberation Sans", sans-serif' textLength="61" lengthAdjust="spacingAndGlyphs" stroke="#262626" stroke-width="0.18">Very Strong, Incorrect</text>
<polyline points="287.2,140.5 500.3,130.2" fill="none" stroke="#e05050" stroke-width="0.9" stroke-linejoin="round" stroke-linecap="butt"/>
<polyline points="287.2,140.5 292.53,139.65 297.86,138.98 303.18,138.32 308.51,137.63 313.84,136.94 319.16,136.11 324.49,135.09 329.82,133.86 335.15,132.45 340.48,130.82 345.8,129 351.13,127.01 356.46,125 361.78,122.93 367.11,120.76 372.44,118.52 377.77,116.24 383.1,113.93 388.42,111.61 393.75,109.28 399.08,106.94 404.41,104.6 409.73,102.25 415.06,99.9 420.39,97.54 425.72,95.17 431.04,92.79 436.37,90.41 441.7,88.02 447.02,85.62 452.35,83.21 457.68,80.79 463.01,78.36 468.34,75.93 473.66,73.49 478.99,71.04 484.32,68.59 489.64,66.13 494.97,63.67 500.3,61.2" fill="none" stroke="#b52db5" stroke-width="1.15" stroke-linejoin="round" stroke-linecap="butt"/>
<polyline points="287.2,140.5 292.53,139.01 297.86,137.26 303.18,135.25 308.51,133.1 313.84,130.86 319.16,128.52 324.49,126.13 329.82,123.7 335.15,121.24 340.48,118.75 345.8,116.24 351.13,113.73 356.46,111.22 361.78,108.69 367.11,106.15 372.44,103.59 377.77,101.02 383.1,98.44 388.42,95.85 393.75,93.26 399.08,90.67 404.41,88.08 409.73,85.47 415.06,82.86 420.39,80.25 425.72,77.63 431.04,75 436.37,72.37 441.7,69.73 447.02,67.09 452.35,64.44 457.68,61.79 463.01,59.14 468.34,56.48 473.66,53.83 478.99,51.16 484.32,48.5 489.64,45.83 494.97,43.17 500.3,40.5" fill="none" stroke="#ff1a1a" stroke-width="1.15" stroke-linejoin="round" stroke-linecap="butt"/>
<polyline points="287.2,140.5 292.53,138.5 297.86,136.26 303.18,133.92 308.51,131.5 313.84,129.01 319.16,126.5 324.49,123.96 329.82,121.41 335.15,118.83 340.48,116.24 345.8,113.63 351.13,111.01 356.46,108.37 361.78,105.71 367.11,103.05 372.44,100.37 377.77,97.69 383.1,94.99 388.42,92.3 393.75,89.6 399.08,86.9 404.41,84.2 409.73,81.51 415.06,78.81 420.39,76.11 425.72,73.41 431.04,70.71 436.37,68 441.7,65.29 447.02,62.58 452.35,59.87 457.68,57.15 463.01,54.42 468.34,51.69 473.66,48.95 478.99,46.2 484.32,43.46 489.64,40.7 494.97,37.95 500.3,35.2" fill="none" stroke="#222222" stroke-width="1.15" stroke-linejoin="round" stroke-linecap="butt"/>
<polyline points="287.2,140.5 292.53,137.91 297.86,135.31 303.18,132.71 308.51,130.1 313.84,127.5 319.16,124.89 324.49,122.27 329.82,119.65 335.15,117.03 340.48,114.4 345.8,111.77 351.13,109.14 356.46,106.5 361.78,103.86 367.11,101.21 372.44,98.57 377.77,95.91 383.1,93.26 388.42,90.6 393.75,87.94 399.08,85.27 404.41,82.6 409.73,79.92 415.06,77.25 420.39,74.56 425.72,71.88 431.04,69.19 436.37,66.5 441.7,63.8 447.02,61.1 452.35,58.4 457.68,55.69 463.01,52.98 468.34,50.27 473.66,47.55 478.99,44.82 484.32,42.1 489.64,39.37 494.97,36.64 500.3,33.9" fill="none" stroke="#2fa82f" stroke-width="1.32" stroke-linejoin="round" stroke-linecap="butt"/>
<polyline points="287.2,140.5 292.53,137.38 297.86,134.26 303.18,131.16 308.51,128.05 313.84,124.96 319.16,121.86 324.49,118.78 329.82,115.7 335.15,112.62 340.48,109.56 345.8,106.49 351.13,103.44 356.46,100.39 361.78,97.34 367.11,94.3 372.44,91.27 377.77,88.24 383.1,85.22 388.42,82.2 393.75,79.19 399.08,76.19 404.41,73.19 409.73,70.19 415.06,67.21 420.39,64.23 425.72,61.25 431.04,58.28 436.37,55.32 441.7,52.36 447.02,49.41 452.35,46.46 457.68,43.52 463.01,40.58 468.34,37.65 473.66,34.73 478.99,31.81 484.32,28.9 489.64,25.99 494.97,23.09 500.3,20.2" fill="none" stroke="#1f1fff" stroke-width="1.15" stroke-linejoin="round" stroke-linecap="butt"/>
<polyline points="287.2,140.5 500.3,9.3" fill="none" stroke="#d84040" stroke-width="0.95" stroke-linejoin="round" stroke-linecap="butt"/>
<line x1="287.2" y1="140.5" x2="500.3" y2="140.5" stroke="#d4d4d4" stroke-width="1.1"/><line x1="500.3" y1="8.9" x2="500.3" y2="140.5" stroke="#d4d4d4" stroke-width="1.1"/><line x1="286.65" y1="8.9" x2="500.85" y2="8.9" stroke="#cfcfcf" stroke-width="1.1"/><line x1="287.2" y1="8.9" x2="287.2" y2="141.05" stroke="#cfcfcf" stroke-width="1.1"/>
<line x1="287.2" y1="141" x2="287.2" y2="142.2" stroke="#111" stroke-width="0.8"/>
<text x="287.2" y="145.8" font-size="5.3" text-anchor="middle" fill="#303030" font-family='"Liberation Sans", sans-serif' textLength="2.96" lengthAdjust="spacingAndGlyphs" stroke="#303030" stroke-width="0.14">0</text>
<line x1="291.46" y1="141" x2="291.46" y2="142.2" stroke="#111" stroke-width="0.8"/>
<text x="291.46" y="145.8" font-size="5.3" text-anchor="middle" fill="#303030" font-family='"Liberation Sans", sans-serif' textLength="2.96" lengthAdjust="spacingAndGlyphs" stroke="#303030" stroke-width="0.14">6</text>
<line x1="308.51" y1="141" x2="308.51" y2="142.2" stroke="#111" stroke-width="0.8"/>
<text x="308.51" y="145.8" font-size="5.3" text-anchor="middle" fill="#303030" font-family='"Liberation Sans", sans-serif' textLength="5.92" lengthAdjust="spacingAndGlyphs" stroke="#303030" stroke-width="0.14">30</text>
<line x1="329.82" y1="141" x2="329.82" y2="142.2" stroke="#111" stroke-width="0.8"/>
<text x="329.82" y="145.8" font-size="5.3" text-anchor="middle" fill="#303030" font-family='"Liberation Sans", sans-serif' textLength="5.92" lengthAdjust="spacingAndGlyphs" stroke="#303030" stroke-width="0.14">60</text>
<line x1="351.13" y1="141" x2="351.13" y2="142.2" stroke="#111" stroke-width="0.8"/>
<text x="351.13" y="145.8" font-size="5.3" text-anchor="middle" fill="#303030" font-family='"Liberation Sans", sans-serif' textLength="5.92" lengthAdjust="spacingAndGlyphs" stroke="#303030" stroke-width="0.14">90</text>
<line x1="372.44" y1="141" x2="372.44" y2="142.2" stroke="#111" stroke-width="0.8"/>
<text x="372.44" y="145.8" font-size="5.3" text-anchor="middle" fill="#303030" font-family='"Liberation Sans", sans-serif' textLength="8.88" lengthAdjust="spacingAndGlyphs" stroke="#303030" stroke-width="0.14">120</text>
<line x1="393.75" y1="141" x2="393.75" y2="142.2" stroke="#111" stroke-width="0.8"/>
<text x="393.75" y="145.8" font-size="5.3" text-anchor="middle" fill="#303030" font-family='"Liberation Sans", sans-serif' textLength="8.88" lengthAdjust="spacingAndGlyphs" stroke="#303030" stroke-width="0.14">150</text>
<line x1="415.06" y1="141" x2="415.06" y2="142.2" stroke="#111" stroke-width="0.8"/>
<text x="415.06" y="145.8" font-size="5.3" text-anchor="middle" fill="#303030" font-family='"Liberation Sans", sans-serif' textLength="8.88" lengthAdjust="spacingAndGlyphs" stroke="#303030" stroke-width="0.14">180</text>
<line x1="436.37" y1="141" x2="436.37" y2="142.2" stroke="#111" stroke-width="0.8"/>
<text x="436.37" y="145.8" font-size="5.3" text-anchor="middle" fill="#303030" font-family='"Liberation Sans", sans-serif' textLength="8.88" lengthAdjust="spacingAndGlyphs" stroke="#303030" stroke-width="0.14">210</text>
<line x1="457.68" y1="141" x2="457.68" y2="142.2" stroke="#111" stroke-width="0.8"/>
<text x="457.68" y="145.8" font-size="5.3" text-anchor="middle" fill="#303030" font-family='"Liberation Sans", sans-serif' textLength="8.88" lengthAdjust="spacingAndGlyphs" stroke="#303030" stroke-width="0.14">240</text>
<line x1="478.99" y1="141" x2="478.99" y2="142.2" stroke="#111" stroke-width="0.8"/>
<text x="478.99" y="145.8" font-size="5.3" text-anchor="middle" fill="#303030" font-family='"Liberation Sans", sans-serif' textLength="8.88" lengthAdjust="spacingAndGlyphs" stroke="#303030" stroke-width="0.14">270</text>
<line x1="500.3" y1="141" x2="500.3" y2="142.2" stroke="#111" stroke-width="0.8"/>
<text x="500.3" y="145.8" font-size="5.3" text-anchor="middle" fill="#303030" font-family='"Liberation Sans", sans-serif' textLength="8.88" lengthAdjust="spacingAndGlyphs" stroke="#303030" stroke-width="0.14">300</text>
<line x1="285.5" y1="140.5" x2="286.7" y2="140.5" stroke="#111" stroke-width="0.8"/>
<text x="284.9" y="142.27" font-size="5.3" text-anchor="end" fill="#303030" font-family='"Liberation Sans", sans-serif' textLength="2.96" lengthAdjust="spacingAndGlyphs" stroke="#303030" stroke-width="0.14">0</text>
<line x1="285.5" y1="124.66" x2="286.7" y2="124.66" stroke="#111" stroke-width="0.8"/>
<text x="284.9" y="126.44" font-size="5.3" text-anchor="end" fill="#303030" font-family='"Liberation Sans", sans-serif' textLength="5.92" lengthAdjust="spacingAndGlyphs" stroke="#303030" stroke-width="0.14">25</text>
<line x1="285.5" y1="108.83" x2="286.7" y2="108.83" stroke="#111" stroke-width="0.8"/>
<text x="284.9" y="110.6" font-size="5.3" text-anchor="end" fill="#303030" font-family='"Liberation Sans", sans-serif' textLength="5.92" lengthAdjust="spacingAndGlyphs" stroke="#303030" stroke-width="0.14">50</text>
<line x1="285.5" y1="92.99" x2="286.7" y2="92.99" stroke="#111" stroke-width="0.8"/>
<text x="284.9" y="94.76" font-size="5.3" text-anchor="end" fill="#303030" font-family='"Liberation Sans", sans-serif' textLength="5.92" lengthAdjust="spacingAndGlyphs" stroke="#303030" stroke-width="0.14">75</text>
<line x1="285.5" y1="77.15" x2="286.7" y2="77.15" stroke="#111" stroke-width="0.8"/>
<text x="284.9" y="78.92" font-size="5.3" text-anchor="end" fill="#303030" font-family='"Liberation Sans", sans-serif' textLength="8.88" lengthAdjust="spacingAndGlyphs" stroke="#303030" stroke-width="0.14">100</text>
<line x1="285.5" y1="61.31" x2="286.7" y2="61.31" stroke="#111" stroke-width="0.8"/>
<text x="284.9" y="63.09" font-size="5.3" text-anchor="end" fill="#303030" font-family='"Liberation Sans", sans-serif' textLength="8.88" lengthAdjust="spacingAndGlyphs" stroke="#303030" stroke-width="0.14">125</text>
<line x1="285.5" y1="45.48" x2="286.7" y2="45.48" stroke="#111" stroke-width="0.8"/>
<text x="284.9" y="47.25" font-size="5.3" text-anchor="end" fill="#303030" font-family='"Liberation Sans", sans-serif' textLength="8.88" lengthAdjust="spacingAndGlyphs" stroke="#303030" stroke-width="0.14">150</text>
<line x1="285.5" y1="29.64" x2="286.7" y2="29.64" stroke="#111" stroke-width="0.8"/>
<text x="284.9" y="31.41" font-size="5.3" text-anchor="end" fill="#303030" font-family='"Liberation Sans", sans-serif' textLength="8.88" lengthAdjust="spacingAndGlyphs" stroke="#303030" stroke-width="0.14">175</text>
<line x1="285.5" y1="13.8" x2="286.7" y2="13.8" stroke="#111" stroke-width="0.8"/>
<text x="284.9" y="15.57" font-size="5.3" text-anchor="end" fill="#303030" font-family='"Liberation Sans", sans-serif' textLength="8.88" lengthAdjust="spacingAndGlyphs" stroke="#303030" stroke-width="0.14">200</text>
<text x="393.75" y="7.6" font-size="6.53" text-anchor="middle" fill="#262626" font-family='"Liberation Sans", sans-serif' textLength="70.7" lengthAdjust="spacingAndGlyphs" stroke="#262626" stroke-width="0.18">Objective 4, Scenario 2</text>
<text x="274.2" y="74.7" font-size="5.84" text-anchor="middle" fill="#262626" font-family='"Liberation Sans", sans-serif' textLength="92.3" lengthAdjust="spacingAndGlyphs" transform="rotate(-90 274.2 74.7)" stroke="#262626" stroke-width="0.18">Mean Cumulative Sum of Efficacy</text>
<text x="393.75" y="151.9" font-size="5.84" text-anchor="middle" fill="#262626" font-family='"Liberation Sans", sans-serif' textLength="78.8" lengthAdjust="spacingAndGlyphs" stroke="#262626" stroke-width="0.18">Number Of Trial Participants</text>
<text x="386" y="169" font-size="10.5" text-anchor="middle" fill="#262626" font-family='"Liberation Serif", serif' font-weight="bold">(d)</text>
<rect x="415" y="88" width="83.8" height="50.9" rx="1.5" fill="#ffffff" fill-opacity="0.82" stroke="#e2e2e2" stroke-width="0.7"/>
<text x="456.9" y="93.83" font-size="5.93" text-anchor="middle" fill="#262626" font-family='"Liberation Sans", sans-serif' textLength="80.38" lengthAdjust="spacingAndGlyphs" stroke="#262626" stroke-width="0.18">Dose-Optimisation Approach</text>
<line x1="417.6" y1="100" x2="428.7" y2="100" stroke="#5a5aff" stroke-width="1.3"/>
<text x="432.9" y="102.13" font-size="5.93" text-anchor="start" fill="#262626" font-family='"Liberation Sans", sans-serif' textLength="56.64" lengthAdjust="spacingAndGlyphs" stroke="#262626" stroke-width="0.18">Very Strong, Correct</text>
<line x1="417.6" y1="108.1" x2="428.7" y2="108.1" stroke="#3cae4c" stroke-width="1.3"/>
<text x="432.9" y="110.23" font-size="5.93" text-anchor="start" fill="#262626" font-family='"Liberation Sans", sans-serif' textLength="42.41" lengthAdjust="spacingAndGlyphs" stroke="#262626" stroke-width="0.18">Strong, Correct</text>
<line x1="417.6" y1="116.3" x2="428.7" y2="116.3" stroke="#333333" stroke-width="1.3"/>
<text x="432.9" y="118.43" font-size="5.93" text-anchor="start" fill="#262626" font-family='"Liberation Sans", sans-serif' textLength="22.24" lengthAdjust="spacingAndGlyphs" stroke="#262626" stroke-width="0.18">No Prior</text>
<line x1="417.6" y1="124.4" x2="428.7" y2="124.4" stroke="#ff4040" stroke-width="1.3"/>
<text x="432.9" y="126.53" font-size="5.93" text-anchor="start" fill="#262626" font-family='"Liberation Sans", sans-serif' textLength="46.78" lengthAdjust="spacingAndGlyphs" stroke="#262626" stroke-width="0.18">Strong, Incorrect</text>
<line x1="417.6" y1="132.5" x2="428.7" y2="132.5" stroke="#b44cc4" stroke-width="1.3"/>
<text x="432.9" y="134.63" font-size="5.93" text-anchor="start" fill="#262626" font-family='"Liberation Sans", sans-serif' textLength="61" lengthAdjust="spacingAndGlyphs" stroke="#262626" stroke-width="0.18">Very Strong, Incorrect</text>
<polyline points="276,336.8 513.6,313.1" fill="none" stroke="#e05050" stroke-width="0.9" stroke-linejoin="round" stroke-linecap="butt"/>
<polyline points="276,336.8 281.94,335.61 287.88,334.38 293.82,333.1 299.76,331.73 305.7,330.24 311.64,328.66 317.58,327.02 323.52,325.3 329.46,323.54 335.4,321.73 341.34,319.92 347.28,318.08 353.22,316.2 359.16,314.27 365.1,312.36 371.04,310.43 376.98,308.47 382.92,306.49 388.86,304.46 394.8,302.41 400.74,300.36 406.68,298.29 412.62,296.17 418.56,294.03 424.5,291.89 430.44,289.71 436.38,287.5 442.32,285.26 448.26,283.01 454.2,280.75 460.14,278.47 466.08,276.18 472.02,273.88 477.96,271.55 483.9,269.21 489.84,266.86 495.78,264.49 501.72,262.11 507.66,259.71 513.6,257.3" fill="none" stroke="#b52db5" stroke-width="1.15" stroke-linejoin="round" stroke-linecap="butt"/>
<polyline points="276,336.8 281.94,334.84 287.88,332.75 293.82,330.54 299.76,328.25 305.7,325.83 311.64,323.26 317.58,320.59 323.52,317.83 329.46,315.01 335.4,312.13 341.34,309.2 347.28,306.23 353.22,303.24 359.16,300.21 365.1,297.15 371.04,294.07 376.98,290.97 382.92,287.84 388.86,284.71 394.8,281.58 400.74,278.45 406.68,275.3 412.62,272.14 418.56,268.96 424.5,265.77 430.44,262.57 436.38,259.37 442.32,256.16 448.26,252.95 454.2,249.73 460.14,246.52 466.08,243.3 472.02,240.08 477.96,236.86 483.9,233.63 489.84,230.41 495.78,227.19 501.72,223.96 507.66,220.73 513.6,217.5" fill="none" stroke="#ff1a1a" stroke-width="1.15" stroke-linejoin="round" stroke-linecap="butt"/>
<polyline points="276,336.8 281.94,334.35 287.88,331.79 293.82,329.2 299.76,326.53 305.7,323.8 311.64,321.01 317.58,318.14 323.52,315.23 329.46,312.31 335.4,309.41 341.34,306.49 347.28,303.52 353.22,300.5 359.16,297.46 365.1,294.4 371.04,291.35 376.98,288.29 382.92,285.22 388.86,282.13 394.8,279.05 400.74,275.96 406.68,272.87 412.62,269.78 418.56,266.67 424.5,263.56 430.44,260.44 436.38,257.32 442.32,254.18 448.26,251.05 454.2,247.91 460.14,244.76 466.08,241.61 472.02,238.46 477.96,235.31 483.9,232.15 489.84,228.99 495.78,225.82 501.72,222.65 507.66,219.48 513.6,216.3" fill="none" stroke="#222222" stroke-width="1.15" stroke-linejoin="round" stroke-linecap="butt"/>
<polyline points="276,336.8 281.94,333.76 287.88,330.71 293.82,327.66 299.76,324.61 305.7,321.55 311.64,318.5 317.58,315.44 323.52,312.38 329.46,309.31 335.4,306.25 341.34,303.18 347.28,300.11 353.22,297.04 359.16,293.96 365.1,290.88 371.04,287.8 376.98,284.72 382.92,281.64 388.86,278.55 394.8,275.46 400.74,272.37 406.68,269.28 412.62,266.18 418.56,263.08 424.5,259.98 430.44,256.88 436.38,253.78 442.32,250.67 448.26,247.56 454.2,244.45 460.14,241.33 466.08,238.22 472.02,235.1 477.96,231.98 483.9,228.85 489.84,225.73 495.78,222.6 501.72,219.47 507.66,216.34 513.6,213.2" fill="none" stroke="#2fa82f" stroke-width="1.32" stroke-linejoin="round" stroke-linecap="butt"/>
<polyline points="276,336.8 281.94,333.35 287.88,329.91 293.82,326.46 299.76,323.03 305.7,319.59 311.64,316.16 317.58,312.74 323.52,309.31 329.46,305.89 335.4,302.48 341.34,299.07 347.28,295.66 353.22,292.26 359.16,288.86 365.1,285.46 371.04,282.07 376.98,278.68 382.92,275.3 388.86,271.92 394.8,268.54 400.74,265.17 406.68,261.8 412.62,258.43 418.56,255.07 424.5,251.71 430.44,248.36 436.38,245.01 442.32,241.66 448.26,238.32 454.2,234.98 460.14,231.64 466.08,228.31 472.02,224.99 477.96,221.66 483.9,218.34 489.84,215.03 495.78,211.71 501.72,208.41 507.66,205.1 513.6,201.8" fill="none" stroke="#1f1fff" stroke-width="1.15" stroke-linejoin="round" stroke-linecap="butt"/>
<polyline points="276,336.8 513.6,189.8" fill="none" stroke="#d84040" stroke-width="0.95" stroke-linejoin="round" stroke-linecap="butt"/>
<line x1="276" y1="336.8" x2="513.6" y2="336.8" stroke="#d4d4d4" stroke-width="1.1"/><line x1="513.6" y1="189.6" x2="513.6" y2="336.8" stroke="#d4d4d4" stroke-width="1.1"/><line x1="275.45" y1="189.6" x2="514.15" y2="189.6" stroke="#cfcfcf" stroke-width="1.1"/><line x1="276" y1="189.6" x2="276" y2="337.35" stroke="#cfcfcf" stroke-width="1.1"/>
<line x1="276" y1="337.3" x2="276" y2="338.5" stroke="#111" stroke-width="0.8"/>
<text x="276" y="342.8" font-size="5.88" text-anchor="middle" fill="#303030" font-family='"Liberation Sans", sans-serif' textLength="3.28" lengthAdjust="spacingAndGlyphs" stroke="#303030" stroke-width="0.14">0</text>
<line x1="280.75" y1="337.3" x2="280.75" y2="338.5" stroke="#111" stroke-width="0.8"/>
<text x="280.75" y="342.8" font-size="5.88" text-anchor="middle" fill="#303030" font-family='"Liberation Sans", sans-serif' textLength="3.28" lengthAdjust="spacingAndGlyphs" stroke="#303030" stroke-width="0.14">6</text>
<line x1="299.76" y1="337.3" x2="299.76" y2="338.5" stroke="#111" stroke-width="0.8"/>
<text x="299.76" y="342.8" font-size="5.88" text-anchor="middle" fill="#303030" font-family='"Liberation Sans", sans-serif' textLength="6.57" lengthAdjust="spacingAndGlyphs" stroke="#303030" stroke-width="0.14">30</text>
<line x1="323.52" y1="337.3" x2="323.52" y2="338.5" stroke="#111" stroke-width="0.8"/>
<text x="323.52" y="342.8" font-size="5.88" text-anchor="middle" fill="#303030" font-family='"Liberation Sans", sans-serif' textLength="6.57" lengthAdjust="spacingAndGlyphs" stroke="#303030" stroke-width="0.14">60</text>
<line x1="347.28" y1="337.3" x2="347.28" y2="338.5" stroke="#111" stroke-width="0.8"/>
<text x="347.28" y="342.8" font-size="5.88" text-anchor="middle" fill="#303030" font-family='"Liberation Sans", sans-serif' textLength="6.57" lengthAdjust="spacingAndGlyphs" stroke="#303030" stroke-width="0.14">90</text>
<line x1="371.04" y1="337.3" x2="371.04" y2="338.5" stroke="#111" stroke-width="0.8"/>
<text x="371.04" y="342.8" font-size="5.88" text-anchor="middle" fill="#303030" font-family='"Liberation Sans", sans-serif' textLength="9.85" lengthAdjust="spacingAndGlyphs" stroke="#303030" stroke-width="0.14">120</text>
<line x1="394.8" y1="337.3" x2="394.8" y2="338.5" stroke="#111" stroke-width="0.8"/>
<text x="394.8" y="342.8" font-size="5.88" text-anchor="middle" fill="#303030" font-family='"Liberation Sans", sans-serif' textLength="9.85" lengthAdjust="spacingAndGlyphs" stroke="#303030" stroke-width="0.14">150</text>
<line x1="418.56" y1="337.3" x2="418.56" y2="338.5" stroke="#111" stroke-width="0.8"/>
<text x="418.56" y="342.8" font-size="5.88" text-anchor="middle" fill="#303030" font-family='"Liberation Sans", sans-serif' textLength="9.85" lengthAdjust="spacingAndGlyphs" stroke="#303030" stroke-width="0.14">180</text>
<line x1="442.32" y1="337.3" x2="442.32" y2="338.5" stroke="#111" stroke-width="0.8"/>
<text x="442.32" y="342.8" font-size="5.88" text-anchor="middle" fill="#303030" font-family='"Liberation Sans", sans-serif' textLength="9.85" lengthAdjust="spacingAndGlyphs" stroke="#303030" stroke-width="0.14">210</text>
<line x1="466.08" y1="337.3" x2="466.08" y2="338.5" stroke="#111" stroke-width="0.8"/>
<text x="466.08" y="342.8" font-size="5.88" text-anchor="middle" fill="#303030" font-family='"Liberation Sans", sans-serif' textLength="9.85" lengthAdjust="spacingAndGlyphs" stroke="#303030" stroke-width="0.14">240</text>
<line x1="489.84" y1="337.3" x2="489.84" y2="338.5" stroke="#111" stroke-width="0.8"/>
<text x="489.84" y="342.8" font-size="5.88" text-anchor="middle" fill="#303030" font-family='"Liberation Sans", sans-serif' textLength="9.85" lengthAdjust="spacingAndGlyphs" stroke="#303030" stroke-width="0.14">270</text>
<line x1="513.6" y1="337.3" x2="513.6" y2="338.5" stroke="#111" stroke-width="0.8"/>
<text x="513.6" y="342.8" font-size="5.88" text-anchor="middle" fill="#303030" font-family='"Liberation Sans", sans-serif' textLength="9.85" lengthAdjust="spacingAndGlyphs" stroke="#303030" stroke-width="0.14">300</text>
<line x1="274.3" y1="336.8" x2="275.5" y2="336.8" stroke="#111" stroke-width="0.8"/>
<text x="273.7" y="338.77" font-size="5.88" text-anchor="end" fill="#303030" font-family='"Liberation Sans", sans-serif' textLength="3.28" lengthAdjust="spacingAndGlyphs" stroke="#303030" stroke-width="0.14">0</text>
<line x1="274.3" y1="308.76" x2="275.5" y2="308.76" stroke="#111" stroke-width="0.8"/>
<text x="273.7" y="310.73" font-size="5.88" text-anchor="end" fill="#303030" font-family='"Liberation Sans", sans-serif' textLength="6.57" lengthAdjust="spacingAndGlyphs" stroke="#303030" stroke-width="0.14">50</text>
<line x1="274.3" y1="280.72" x2="275.5" y2="280.72" stroke="#111" stroke-width="0.8"/>
<text x="273.7" y="282.69" font-size="5.88" text-anchor="end" fill="#303030" font-family='"Liberation Sans", sans-serif' textLength="9.85" lengthAdjust="spacingAndGlyphs" stroke="#303030" stroke-width="0.14">100</text>
<line x1="274.3" y1="252.68" x2="275.5" y2="252.68" stroke="#111" stroke-width="0.8"/>
<text x="273.7" y="254.65" font-size="5.88" text-anchor="end" fill="#303030" font-family='"Liberation Sans", sans-serif' textLength="9.85" lengthAdjust="spacingAndGlyphs" stroke="#303030" stroke-width="0.14">150</text>
<line x1="274.3" y1="224.64" x2="275.5" y2="224.64" stroke="#111" stroke-width="0.8"/>
<text x="273.7" y="226.61" font-size="5.88" text-anchor="end" fill="#303030" font-family='"Liberation Sans", sans-serif' textLength="9.85" lengthAdjust="spacingAndGlyphs" stroke="#303030" stroke-width="0.14">200</text>
<line x1="274.3" y1="196.6" x2="275.5" y2="196.6" stroke="#111" stroke-width="0.8"/>
<text x="273.7" y="198.57" font-size="5.88" text-anchor="end" fill="#303030" font-family='"Liberation Sans", sans-serif' textLength="9.85" lengthAdjust="spacingAndGlyphs" stroke="#303030" stroke-width="0.14">250</text>
<text x="394.8" y="188.3" font-size="7.25" text-anchor="middle" fill="#262626" font-family='"Liberation Sans", sans-serif' textLength="79.6" lengthAdjust="spacingAndGlyphs" stroke="#262626" stroke-width="0.18">Objective 4, Scenario 3</text>
<text x="261.6" y="263.2" font-size="6.48" text-anchor="middle" fill="#262626" font-family='"Liberation Sans", sans-serif' textLength="102" lengthAdjust="spacingAndGlyphs" transform="rotate(-90 261.6 263.2)" stroke="#262626" stroke-width="0.18">Mean Cumulative Sum of Efficacy</text>
<text x="394.8" y="349.5" font-size="6.48" text-anchor="middle" fill="#262626" font-family='"Liberation Sans", sans-serif' textLength="87" lengthAdjust="spacingAndGlyphs" stroke="#262626" stroke-width="0.18">Number Of Trial Participants</text>
<text x="386" y="367" font-size="10.5" text-anchor="middle" fill="#262626" font-family='"Liberation Serif", serif' font-weight="bold">(f)</text>
<rect x="417.5" y="277.6" width="92.8" height="57.4" rx="1.5" fill="#ffffff" fill-opacity="0.82" stroke="#e2e2e2" stroke-width="0.7"/>
<text x="463.9" y="284.97" font-size="6.58" text-anchor="middle" fill="#262626" font-family='"Liberation Sans", sans-serif' textLength="89.22" lengthAdjust="spacingAndGlyphs" stroke="#262626" stroke-width="0.18">Dose-Optimisation Approach</text>
<line x1="421.3" y1="291.8" x2="433.8" y2="291.8" stroke="#5a5aff" stroke-width="1.3"/>
<text x="438.9" y="294.17" font-size="6.58" text-anchor="start" fill="#262626" font-family='"Liberation Sans", sans-serif' textLength="62.87" lengthAdjust="spacingAndGlyphs" stroke="#262626" stroke-width="0.18">Very Strong, Correct</text>
<line x1="421.3" y1="300.7" x2="433.8" y2="300.7" stroke="#3cae4c" stroke-width="1.3"/>
<text x="438.9" y="303.07" font-size="6.58" text-anchor="start" fill="#262626" font-family='"Liberation Sans", sans-serif' textLength="47.08" lengthAdjust="spacingAndGlyphs" stroke="#262626" stroke-width="0.18">Strong, Correct</text>
<line x1="421.3" y1="309.8" x2="433.8" y2="309.8" stroke="#333333" stroke-width="1.3"/>
<text x="438.9" y="312.17" font-size="6.58" text-anchor="start" fill="#262626" font-family='"Liberation Sans", sans-serif' textLength="24.68" lengthAdjust="spacingAndGlyphs" stroke="#262626" stroke-width="0.18">No Prior</text>
<line x1="421.3" y1="319" x2="433.8" y2="319" stroke="#ff4040" stroke-width="1.3"/>
<text x="438.9" y="321.37" font-size="6.58" text-anchor="start" fill="#262626" font-family='"Liberation Sans", sans-serif' textLength="51.92" lengthAdjust="spacingAndGlyphs" stroke="#262626" stroke-width="0.18">Strong, Incorrect</text>
<line x1="421.3" y1="328" x2="433.8" y2="328" stroke="#b44cc4" stroke-width="1.3"/>
<text x="438.9" y="330.37" font-size="6.58" text-anchor="start" fill="#262626" font-family='"Liberation Sans", sans-serif' textLength="67.71" lengthAdjust="spacingAndGlyphs" stroke="#262626" stroke-width="0.18">Very Strong, Incorrect</text>
<polyline points="287.5,517.7 500.3,502.7" fill="none" stroke="#e05050" stroke-width="0.9" stroke-linejoin="round" stroke-linecap="butt"/>
<polyline points="287.5,517.7 292.82,516.55 298.14,515.4 303.46,514.25 308.78,513.1 314.1,511.95 319.42,510.78 324.74,509.58 330.06,508.37 335.38,507.1 340.7,505.77 346.02,504.4 351.34,502.99 356.66,501.52 361.98,500.01 367.3,498.45 372.62,496.85 377.94,495.22 383.26,493.55 388.58,491.83 393.9,490.08 399.22,488.3 404.54,486.49 409.86,484.69 415.18,482.86 420.5,481.02 425.82,479.16 431.14,477.29 436.46,475.41 441.78,473.52 447.1,471.61 452.42,469.7 457.74,467.78 463.06,465.85 468.38,463.92 473.7,461.98 479.02,460.04 484.34,458.09 489.66,456.14 494.98,454.17 500.3,452.2" fill="none" stroke="#b52db5" stroke-width="1.15" stroke-linejoin="round" stroke-linecap="butt"/>
<polyline points="287.5,517.7 292.82,516.14 298.14,514.34 303.46,512.4 308.78,510.3 314.1,508 319.42,505.52 324.74,502.92 330.06,500.26 335.38,497.54 340.7,494.78 346.02,491.99 351.34,489.16 356.66,486.3 361.98,483.42 367.3,480.53 372.62,477.63 377.94,474.72 383.26,471.8 388.58,468.86 393.9,465.91 399.22,462.96 404.54,460 409.86,457.03 415.18,454.07 420.5,451.1 425.82,448.13 431.14,445.16 436.46,442.18 441.78,439.21 447.1,436.23 452.42,433.24 457.74,430.25 463.06,427.26 468.38,424.27 473.7,421.27 479.02,418.28 484.34,415.29 489.66,412.29 494.98,409.3 500.3,406.3" fill="none" stroke="#ff1a1a" stroke-width="1.15" stroke-linejoin="round" stroke-linecap="butt"/>
<polyline points="287.5,517.7 292.82,515.2 298.14,512.62 303.46,509.97 308.78,507.27 314.1,504.54 319.42,501.79 324.74,499.01 330.06,496.22 335.38,493.41 340.7,490.59 346.02,487.75 351.34,484.9 356.66,482.05 361.98,479.19 367.3,476.32 372.62,473.44 377.94,470.56 383.26,467.68 388.58,464.8 393.9,461.91 399.22,459.03 404.54,456.14 409.86,453.25 415.18,450.36 420.5,447.47 425.82,444.57 431.14,441.68 436.46,438.78 441.78,435.89 447.1,432.99 452.42,430.09 457.74,427.2 463.06,424.3 468.38,421.4 473.7,418.5 479.02,415.6 484.34,412.7 489.66,409.8 494.98,406.9 500.3,404" fill="none" stroke="#222222" stroke-width="1.15" stroke-linejoin="round" stroke-linecap="butt"/>
<polyline points="287.5,517.7 292.82,514.8 298.14,511.9 303.46,509 308.78,506.09 314.1,503.19 319.42,500.28 324.74,497.37 330.06,494.46 335.38,491.55 340.7,488.64 346.02,485.73 351.34,482.81 356.66,479.9 361.98,476.98 367.3,474.06 372.62,471.14 377.94,468.22 383.26,465.3 388.58,462.38 393.9,459.45 399.22,456.53 404.54,453.6 409.86,450.67 415.18,447.74 420.5,444.81 425.82,441.88 431.14,438.95 436.46,436.01 441.78,433.08 447.1,430.14 452.42,427.2 457.74,424.26 463.06,421.32 468.38,418.38 473.7,415.44 479.02,412.49 484.34,409.55 489.66,406.6 494.98,403.65 500.3,400.7" fill="none" stroke="#2fa82f" stroke-width="1.32" stroke-linejoin="round" stroke-linecap="butt"/>
<polyline points="287.5,517.7 292.82,514.49 298.14,511.28 303.46,508.08 308.78,504.88 314.1,501.69 319.42,498.49 324.74,495.31 330.06,492.12 335.38,488.94 340.7,485.77 346.02,482.6 351.34,479.43 356.66,476.26 361.98,473.1 367.3,469.95 372.62,466.79 377.94,463.65 383.26,460.5 388.58,457.36 393.9,454.22 399.22,451.09 404.54,447.96 409.86,444.84 415.18,441.71 420.5,438.6 425.82,435.48 431.14,432.37 436.46,429.27 441.78,426.17 447.1,423.07 452.42,419.97 457.74,416.88 463.06,413.8 468.38,410.71 473.7,407.64 479.02,404.56 484.34,401.49 489.66,398.42 494.98,395.36 500.3,392.3" fill="none" stroke="#1f1fff" stroke-width="1.15" stroke-linejoin="round" stroke-linecap="butt"/>
<polyline points="287.5,517.7 500.3,386.2" fill="none" stroke="#d84040" stroke-width="0.95" stroke-linejoin="round" stroke-linecap="butt"/>
<line x1="287.5" y1="517.7" x2="500.3" y2="517.7" stroke="#d4d4d4" stroke-width="1.1"/><line x1="500.3" y1="386.2" x2="500.3" y2="517.7" stroke="#d4d4d4" stroke-width="1.1"/><line x1="286.95" y1="386.2" x2="500.85" y2="386.2" stroke="#cfcfcf" stroke-width="1.1"/><line x1="287.5" y1="386.2" x2="287.5" y2="518.25" stroke="#cfcfcf" stroke-width="1.1"/>
<line x1="287.5" y1="518.2" x2="287.5" y2="519.4" stroke="#111" stroke-width="0.8"/>
<text x="287.5" y="523.1" font-size="5.3" text-anchor="middle" fill="#303030" font-family='"Liberation Sans", sans-serif' textLength="2.96" lengthAdjust="spacingAndGlyphs" stroke="#303030" stroke-width="0.14">0</text>
<line x1="291.76" y1="518.2" x2="291.76" y2="519.4" stroke="#111" stroke-width="0.8"/>
<text x="291.76" y="523.1" font-size="5.3" text-anchor="middle" fill="#303030" font-family='"Liberation Sans", sans-serif' textLength="2.96" lengthAdjust="spacingAndGlyphs" stroke="#303030" stroke-width="0.14">6</text>
<line x1="308.78" y1="518.2" x2="308.78" y2="519.4" stroke="#111" stroke-width="0.8"/>
<text x="308.78" y="523.1" font-size="5.3" text-anchor="middle" fill="#303030" font-family='"Liberation Sans", sans-serif' textLength="5.92" lengthAdjust="spacingAndGlyphs" stroke="#303030" stroke-width="0.14">30</text>
<line x1="330.06" y1="518.2" x2="330.06" y2="519.4" stroke="#111" stroke-width="0.8"/>
<text x="330.06" y="523.1" font-size="5.3" text-anchor="middle" fill="#303030" font-family='"Liberation Sans", sans-serif' textLength="5.92" lengthAdjust="spacingAndGlyphs" stroke="#303030" stroke-width="0.14">60</text>
<line x1="351.34" y1="518.2" x2="351.34" y2="519.4" stroke="#111" stroke-width="0.8"/>
<text x="351.34" y="523.1" font-size="5.3" text-anchor="middle" fill="#303030" font-family='"Liberation Sans", sans-serif' textLength="5.92" lengthAdjust="spacingAndGlyphs" stroke="#303030" stroke-width="0.14">90</text>
<line x1="372.62" y1="518.2" x2="372.62" y2="519.4" stroke="#111" stroke-width="0.8"/>
<text x="372.62" y="523.1" font-size="5.3" text-anchor="middle" fill="#303030" font-family='"Liberation Sans", sans-serif' textLength="8.88" lengthAdjust="spacingAndGlyphs" stroke="#303030" stroke-width="0.14">120</text>
<line x1="393.9" y1="518.2" x2="393.9" y2="519.4" stroke="#111" stroke-width="0.8"/>
<text x="393.9" y="523.1" font-size="5.3" text-anchor="middle" fill="#303030" font-family='"Liberation Sans", sans-serif' textLength="8.88" lengthAdjust="spacingAndGlyphs" stroke="#303030" stroke-width="0.14">150</text>
<line x1="415.18" y1="518.2" x2="415.18" y2="519.4" stroke="#111" stroke-width="0.8"/>
<text x="415.18" y="523.1" font-size="5.3" text-anchor="middle" fill="#303030" font-family='"Liberation Sans", sans-serif' textLength="8.88" lengthAdjust="spacingAndGlyphs" stroke="#303030" stroke-width="0.14">180</text>
<line x1="436.46" y1="518.2" x2="436.46" y2="519.4" stroke="#111" stroke-width="0.8"/>
<text x="436.46" y="523.1" font-size="5.3" text-anchor="middle" fill="#303030" font-family='"Liberation Sans", sans-serif' textLength="8.88" lengthAdjust="spacingAndGlyphs" stroke="#303030" stroke-width="0.14">210</text>
<line x1="457.74" y1="518.2" x2="457.74" y2="519.4" stroke="#111" stroke-width="0.8"/>
<text x="457.74" y="523.1" font-size="5.3" text-anchor="middle" fill="#303030" font-family='"Liberation Sans", sans-serif' textLength="8.88" lengthAdjust="spacingAndGlyphs" stroke="#303030" stroke-width="0.14">240</text>
<line x1="479.02" y1="518.2" x2="479.02" y2="519.4" stroke="#111" stroke-width="0.8"/>
<text x="479.02" y="523.1" font-size="5.3" text-anchor="middle" fill="#303030" font-family='"Liberation Sans", sans-serif' textLength="8.88" lengthAdjust="spacingAndGlyphs" stroke="#303030" stroke-width="0.14">270</text>
<line x1="500.3" y1="518.2" x2="500.3" y2="519.4" stroke="#111" stroke-width="0.8"/>
<text x="500.3" y="523.1" font-size="5.3" text-anchor="middle" fill="#303030" font-family='"Liberation Sans", sans-serif' textLength="8.88" lengthAdjust="spacingAndGlyphs" stroke="#303030" stroke-width="0.14">300</text>
<line x1="285.8" y1="517.7" x2="287" y2="517.7" stroke="#111" stroke-width="0.8"/>
<text x="285.2" y="519.47" font-size="5.3" text-anchor="end" fill="#303030" font-family='"Liberation Sans", sans-serif' textLength="2.96" lengthAdjust="spacingAndGlyphs" stroke="#303030" stroke-width="0.14">0</text>
<line x1="285.8" y1="493.22" x2="287" y2="493.22" stroke="#111" stroke-width="0.8"/>
<text x="285.2" y="494.99" font-size="5.3" text-anchor="end" fill="#303030" font-family='"Liberation Sans", sans-serif' textLength="5.92" lengthAdjust="spacingAndGlyphs" stroke="#303030" stroke-width="0.14">50</text>
<line x1="285.8" y1="468.74" x2="287" y2="468.74" stroke="#111" stroke-width="0.8"/>
<text x="285.2" y="470.51" font-size="5.3" text-anchor="end" fill="#303030" font-family='"Liberation Sans", sans-serif' textLength="8.88" lengthAdjust="spacingAndGlyphs" stroke="#303030" stroke-width="0.14">100</text>
<line x1="285.8" y1="444.26" x2="287" y2="444.26" stroke="#111" stroke-width="0.8"/>
<text x="285.2" y="446.03" font-size="5.3" text-anchor="end" fill="#303030" font-family='"Liberation Sans", sans-serif' textLength="8.88" lengthAdjust="spacingAndGlyphs" stroke="#303030" stroke-width="0.14">150</text>
<line x1="285.8" y1="419.78" x2="287" y2="419.78" stroke="#111" stroke-width="0.8"/>
<text x="285.2" y="421.55" font-size="5.3" text-anchor="end" fill="#303030" font-family='"Liberation Sans", sans-serif' textLength="8.88" lengthAdjust="spacingAndGlyphs" stroke="#303030" stroke-width="0.14">200</text>
<line x1="285.8" y1="395.3" x2="287" y2="395.3" stroke="#111" stroke-width="0.8"/>
<text x="285.2" y="397.07" font-size="5.3" text-anchor="end" fill="#303030" font-family='"Liberation Sans", sans-serif' textLength="8.88" lengthAdjust="spacingAndGlyphs" stroke="#303030" stroke-width="0.14">250</text>
<text x="393.9" y="384.9" font-size="6.53" text-anchor="middle" fill="#262626" font-family='"Liberation Sans", sans-serif' textLength="70.7" lengthAdjust="spacingAndGlyphs" stroke="#262626" stroke-width="0.18">Objective 4, Scenario 4</text>
<text x="274.4" y="451.95" font-size="5.84" text-anchor="middle" fill="#262626" font-family='"Liberation Sans", sans-serif' textLength="92.3" lengthAdjust="spacingAndGlyphs" transform="rotate(-90 274.4 451.95)" stroke="#262626" stroke-width="0.18">Mean Cumulative Sum of Efficacy</text>
<text x="393.9" y="529.3" font-size="5.84" text-anchor="middle" fill="#262626" font-family='"Liberation Sans", sans-serif' textLength="77.8" lengthAdjust="spacingAndGlyphs" stroke="#262626" stroke-width="0.18">Number Of Trial Participants</text>
<text x="386" y="546" font-size="10.5" text-anchor="middle" fill="#262626" font-family='"Liberation Serif", serif' font-weight="bold">(h)</text>
<rect x="414.6" y="464.4" width="84.2" height="50.6" rx="1.5" fill="#ffffff" fill-opacity="0.82" stroke="#e2e2e2" stroke-width="0.7"/>
<text x="456.7" y="470.83" font-size="5.93" text-anchor="middle" fill="#262626" font-family='"Liberation Sans", sans-serif' textLength="80.38" lengthAdjust="spacingAndGlyphs" stroke="#262626" stroke-width="0.18">Dose-Optimisation Approach</text>
<line x1="417.6" y1="477.4" x2="429.4" y2="477.4" stroke="#5a5aff" stroke-width="1.3"/>
<text x="432.9" y="479.53" font-size="5.93" text-anchor="start" fill="#262626" font-family='"Liberation Sans", sans-serif' textLength="56.64" lengthAdjust="spacingAndGlyphs" stroke="#262626" stroke-width="0.18">Very Strong, Correct</text>
<line x1="417.6" y1="485.2" x2="429.4" y2="485.2" stroke="#3cae4c" stroke-width="1.3"/>
<text x="432.9" y="487.33" font-size="5.93" text-anchor="start" fill="#262626" font-family='"Liberation Sans", sans-serif' textLength="42.41" lengthAdjust="spacingAndGlyphs" stroke="#262626" stroke-width="0.18">Strong, Correct</text>
<line x1="417.6" y1="493.2" x2="429.4" y2="493.2" stroke="#333333" stroke-width="1.3"/>
<text x="432.9" y="495.33" font-size="5.93" text-anchor="start" fill="#262626" font-family='"Liberation Sans", sans-serif' textLength="22.24" lengthAdjust="spacingAndGlyphs" stroke="#262626" stroke-width="0.18">No Prior</text>
<line x1="417.6" y1="501.7" x2="429.4" y2="501.7" stroke="#ff4040" stroke-width="1.3"/>
<text x="432.9" y="503.83" font-size="5.93" text-anchor="start" fill="#262626" font-family='"Liberation Sans", sans-serif' textLength="46.78" lengthAdjust="spacingAndGlyphs" stroke="#262626" stroke-width="0.18">Strong, Incorrect</text>
<line x1="417.6" y1="509.7" x2="429.4" y2="509.7" stroke="#b44cc4" stroke-width="1.3"/>
<text x="432.9" y="511.83" font-size="5.93" text-anchor="start" fill="#262626" font-family='"Liberation Sans", sans-serif' textLength="61" lengthAdjust="spacingAndGlyphs" stroke="#262626" stroke-width="0.18">Very Strong, Incorrect</text>
</svg></body></html>
